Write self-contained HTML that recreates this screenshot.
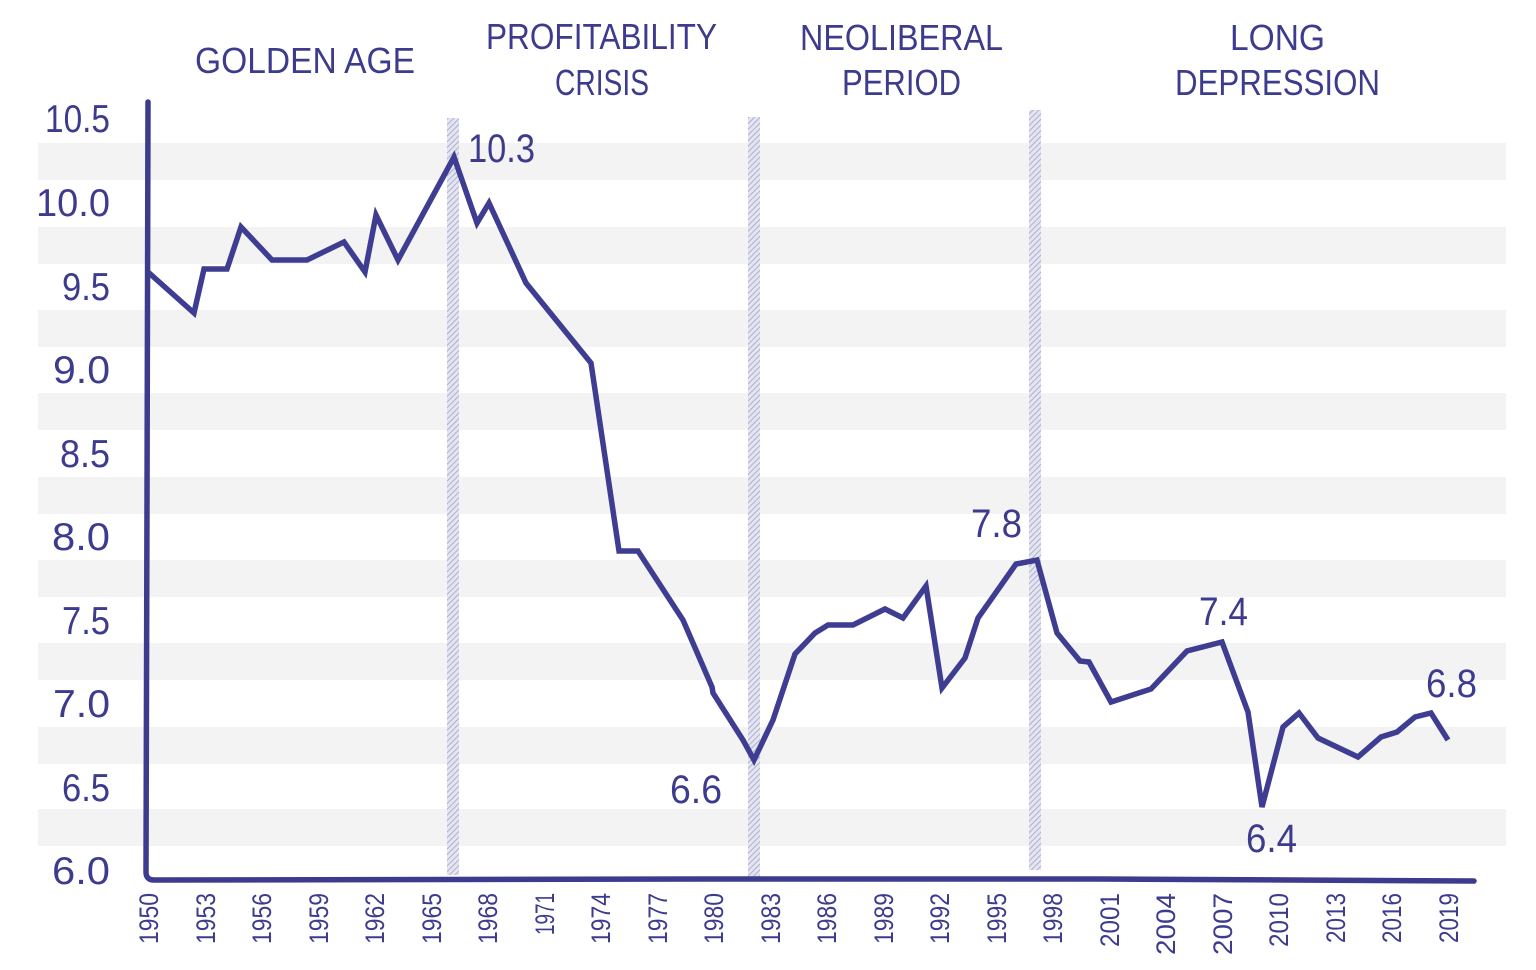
<!DOCTYPE html>
<html>
<head>
<meta charset="utf-8">
<style>
  html,body{margin:0;padding:0;background:#fff;}
  svg{display:block;}
  text{font-family:"Liberation Sans",sans-serif;fill:#3d3b8e;}
</style>
</head>
<body>
<svg width="1536" height="970" viewBox="0 0 1536 970" xmlns="http://www.w3.org/2000/svg">
  <defs>
    <pattern id="hatch" width="4" height="4" patternUnits="userSpaceOnUse" patternTransform="rotate(45)">
      <rect width="4" height="4" fill="#e4e5f0"/>
      <line x1="0" y1="0" x2="0" y2="4" stroke="#9fa2c8" stroke-width="1.6"/>
    </pattern>
  </defs>
  <rect width="1536" height="970" fill="#fff"/>

  <!-- gray bands -->
  <g fill="#f3f3f3">
    <rect x="38" y="143" width="1468" height="37"/>
    <rect x="38" y="227" width="1468" height="37"/>
    <rect x="38" y="310" width="1468" height="37"/>
    <rect x="38" y="393" width="1468" height="37"/>
    <rect x="38" y="477" width="1468" height="37"/>
    <rect x="38" y="560" width="1468" height="37"/>
    <rect x="38" y="643" width="1468" height="37"/>
    <rect x="38" y="727" width="1468" height="37"/>
    <rect x="38" y="809" width="1468" height="37"/>
  </g>

  <!-- hatched period dividers -->
  <rect x="447" y="118" width="12" height="757" fill="url(#hatch)"/>
  <rect x="748" y="117" width="12" height="760" fill="url(#hatch)"/>
  <rect x="1029" y="110" width="12" height="760" fill="url(#hatch)"/>

  <!-- headers -->
  <g font-size="36">
    <text x="195" y="73" textLength="220" lengthAdjust="spacingAndGlyphs">GOLDEN AGE</text>
    <text x="486" y="49" textLength="231" lengthAdjust="spacingAndGlyphs">PROFITABILITY</text>
    <text x="555" y="95" textLength="94" lengthAdjust="spacingAndGlyphs">CRISIS</text>
    <text x="800" y="50" textLength="203" lengthAdjust="spacingAndGlyphs">NEOLIBERAL</text>
    <text x="842" y="95" textLength="119" lengthAdjust="spacingAndGlyphs">PERIOD</text>
    <text x="1230" y="50" textLength="95" lengthAdjust="spacingAndGlyphs">LONG</text>
    <text x="1175" y="95" textLength="205" lengthAdjust="spacingAndGlyphs">DEPRESSION</text>
  </g>

  <!-- y labels -->
  <g font-size="39" text-anchor="end">
    <text x="110" y="132" textLength="65" lengthAdjust="spacingAndGlyphs">10.5</text>
    <text x="110" y="216" textLength="74" lengthAdjust="spacingAndGlyphs">10.0</text>
    <text x="110" y="300" textLength="48" lengthAdjust="spacingAndGlyphs">9.5</text>
    <text x="110" y="383" textLength="57" lengthAdjust="spacingAndGlyphs">9.0</text>
    <text x="110" y="467" textLength="50" lengthAdjust="spacingAndGlyphs">8.5</text>
    <text x="110" y="550" textLength="58" lengthAdjust="spacingAndGlyphs">8.0</text>
    <text x="110" y="634" textLength="48" lengthAdjust="spacingAndGlyphs">7.5</text>
    <text x="110" y="717" textLength="57" lengthAdjust="spacingAndGlyphs">7.0</text>
    <text x="110" y="801" textLength="48" lengthAdjust="spacingAndGlyphs">6.5</text>
    <text x="110" y="884" textLength="58" lengthAdjust="spacingAndGlyphs">6.0</text>
  </g>

  <!-- axes -->
  <path d="M148,102 L147,500 L146,872 Q146,880 154,880 L700,879 L1100,879 L1474,881" fill="none" stroke="#3d3b8e" stroke-width="5.5" stroke-linecap="round" stroke-linejoin="round"/>

  <!-- data line -->
  <polyline fill="none" stroke="#3f3d91" stroke-width="5.5" stroke-linejoin="miter" stroke-linecap="butt"
    points="148,272 194,313 204,269 227,269 241,227 272,260 307,260 344,242 365,272 376,215 398,260 454,157 477,223 489,203 526,283 591,363 619,551 638,551 683,620 712,687 713,693 743,740 754,760 773,720 795,654 815,633 828,625 853,625 885,609 903,618 926,586 942,688 965,658 978,618 1016,564 1037,560 1057,633 1080,661 1089,662 1111,702 1151,689 1187,651 1222,642 1248,712 1262,807 1283,727 1299,713 1318,738 1358,757 1381,737 1397,732 1415,717 1431,713 1448,740"/>

  <!-- annotations -->
  <g font-size="40">
    <text x="468" y="162" textLength="67" lengthAdjust="spacingAndGlyphs">10.3</text>
    <text x="670" y="803" textLength="52" lengthAdjust="spacingAndGlyphs">6.6</text>
    <text x="971" y="537" textLength="51" lengthAdjust="spacingAndGlyphs">7.8</text>
    <text x="1199" y="625" textLength="49" lengthAdjust="spacingAndGlyphs">7.4</text>
    <text x="1246" y="852" textLength="51" lengthAdjust="spacingAndGlyphs">6.4</text>
    <text x="1426" y="697" textLength="51" lengthAdjust="spacingAndGlyphs">6.8</text>
  </g>

  <!-- x labels -->
  <g font-size="27" text-anchor="end">
    <text transform="translate(158,893) rotate(-90)" textLength="51" lengthAdjust="spacingAndGlyphs">1950</text>
    <text transform="translate(215,893) rotate(-90)" textLength="51" lengthAdjust="spacingAndGlyphs">1953</text>
    <text transform="translate(271,893) rotate(-90)" textLength="51" lengthAdjust="spacingAndGlyphs">1956</text>
    <text transform="translate(328,893) rotate(-90)" textLength="51" lengthAdjust="spacingAndGlyphs">1959</text>
    <text transform="translate(384,893) rotate(-90)" textLength="51" lengthAdjust="spacingAndGlyphs">1962</text>
    <text transform="translate(441,893) rotate(-90)" textLength="51" lengthAdjust="spacingAndGlyphs">1965</text>
    <text transform="translate(497,893) rotate(-90)" textLength="51" lengthAdjust="spacingAndGlyphs">1968</text>
    <text transform="translate(554,893) rotate(-90)" textLength="42" lengthAdjust="spacingAndGlyphs">1971</text>
    <text transform="translate(610,893) rotate(-90)" textLength="51" lengthAdjust="spacingAndGlyphs">1974</text>
    <text transform="translate(667,893) rotate(-90)" textLength="51" lengthAdjust="spacingAndGlyphs">1977</text>
    <text transform="translate(723,893) rotate(-90)" textLength="51" lengthAdjust="spacingAndGlyphs">1980</text>
    <text transform="translate(780,893) rotate(-90)" textLength="51" lengthAdjust="spacingAndGlyphs">1983</text>
    <text transform="translate(836,893) rotate(-90)" textLength="51" lengthAdjust="spacingAndGlyphs">1986</text>
    <text transform="translate(893,893) rotate(-90)" textLength="51" lengthAdjust="spacingAndGlyphs">1989</text>
    <text transform="translate(949,893) rotate(-90)" textLength="51" lengthAdjust="spacingAndGlyphs">1992</text>
    <text transform="translate(1006,893) rotate(-90)" textLength="51" lengthAdjust="spacingAndGlyphs">1995</text>
    <text transform="translate(1062,893) rotate(-90)" textLength="51" lengthAdjust="spacingAndGlyphs">1998</text>
    <text transform="translate(1119,893) rotate(-90)" textLength="54" lengthAdjust="spacingAndGlyphs">2001</text>
    <text transform="translate(1175,893) rotate(-90)" textLength="62" lengthAdjust="spacingAndGlyphs">2004</text>
    <text transform="translate(1232,893) rotate(-90)" textLength="62" lengthAdjust="spacingAndGlyphs">2007</text>
    <text transform="translate(1288,893) rotate(-90)" textLength="54" lengthAdjust="spacingAndGlyphs">2010</text>
    <text transform="translate(1345,893) rotate(-90)" textLength="50" lengthAdjust="spacingAndGlyphs">2013</text>
    <text transform="translate(1401,893) rotate(-90)" textLength="50" lengthAdjust="spacingAndGlyphs">2016</text>
    <text transform="translate(1458,893) rotate(-90)" textLength="50" lengthAdjust="spacingAndGlyphs">2019</text>
  </g>
</svg>
</body>
</html>
